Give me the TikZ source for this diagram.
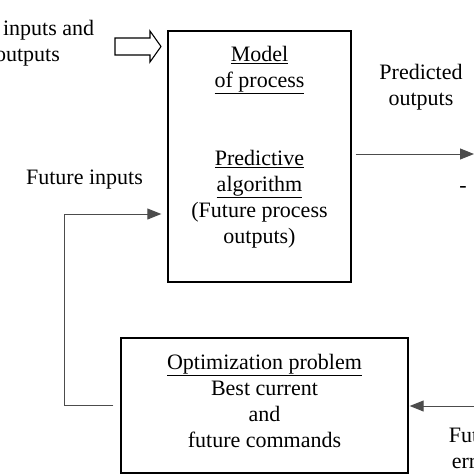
\documentclass[tikz,border=0pt]{standalone}
\usepackage{fontspec}
\setmainfont{Liberation Serif}
\usetikzlibrary{arrows.meta}

\tikzset{
  blockbox/.style={draw, line width=1.4pt, minimum width=#1, inner sep=0pt},
  blocktext/.style={align=center, inner sep=0pt, font=\fontsize{22}{26}\selectfont},
  conn/.style={draw=black!70, line width=1pt},
  tip/.style={-{Triangle[length=14pt,width=11pt]}}
}

\begin{document}
\begin{tikzpicture}[x=1pt, y=-1pt]
  \useasboundingbox (0,0) rectangle (474,474);
  \node[blockbox=183pt, minimum height=251pt] (model) at (259.5,156.5) {};
  \node[blocktext] (modeltxt) at (259.5,147) {\underline{Model}\\\underline{of process}\\[52pt]\underline{Predictive}\\\underline{algorithm}\\(Future process\\outputs)};
  \node[blockbox=287pt, minimum height=135pt] (opt) at (264.5,405.5) {};
  \node[blocktext] (opttxt) at (264.5,401) {\underline{Optimization problem}\\Best current\\and\\future commands};

  \node[blocktext] (past) at (27.5,43) {Past inputs and\\outputs};
  \node[blocktext] (pred) at (421,87) {Predicted\\outputs};
  \node[blocktext] (futin) at (84.5,180) {Future inputs};
  \node[blocktext] (minus) at (463,189) {-};
  \node[blocktext] (futerr) at (477.5,448) {Future\\errors};

  \draw[line width=1.1pt, line join=miter] (115,38) -- (150,38) -- (150,31) -- (161,46.5) -- (150,62) -- (150,55) -- (115,55) -- cycle;

  \coordinate (predEnd) at (474,154);
  \coordinate (errStart) at (474,406);
  \coordinate (fbTurn) at (64,214);
  \draw[conn, tip, shorten <=4pt] (model.east |- predEnd) -- (predEnd);
  \draw[conn, tip, shorten >=1pt] (errStart) -- (opt.east |- errStart);
  \draw[conn, tip, shorten <=7pt, shorten >=6pt] (opt.west) -| (fbTurn) -- (model.west |- fbTurn);
\end{tikzpicture}
\end{document}
